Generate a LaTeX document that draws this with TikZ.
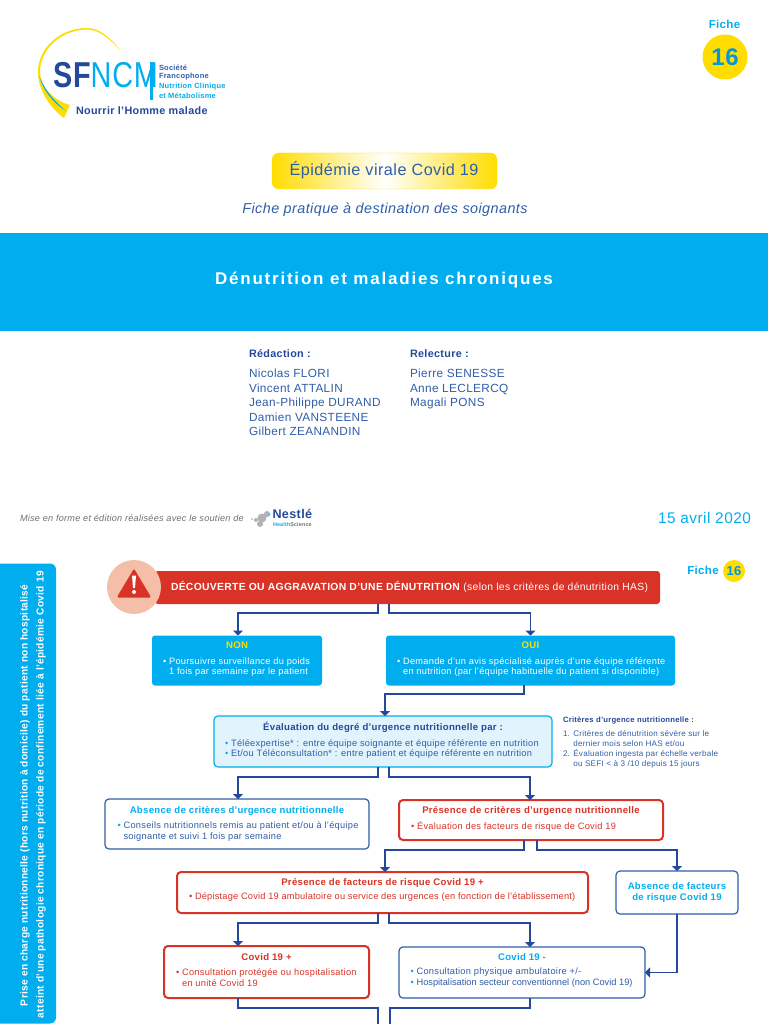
\documentclass[tikz,border=0pt]{standalone}
\usepackage{fontspec}
\setmainfont[LetterSpace=3]{Liberation Sans}
\usetikzlibrary{arrows.meta, positioning}
\definecolor{sfCyan}{HTML}{00AEEF}
\definecolor{sfBlue}{HTML}{2F5DA8}
\definecolor{sfDark}{HTML}{24489A}
\definecolor{sfRed}{HTML}{D93226}
\definecolor{sfYellow}{HTML}{FFDD00}
\definecolor{sfPale}{HTML}{E1F4FD}
\definecolor{sfPeach}{HTML}{F4BEA9}
\definecolor{sfGrey}{HTML}{6D6E71}
\newcommand{\fsz}[1]{\fontsize{#1}{#1}\selectfont}
\tikzset{
  every node/.append style = {inner sep=0pt, outer sep=0pt},
  link/.style      = {-{Triangle[length=5pt, width=10pt]}, sfDark, line width=1.5pt},
  plainlink/.style = {sfDark, line width=1.5pt},
  cyanbox/.style   = {rectangle, rounded corners=3pt, fill=sfCyan},
  bluebox/.style   = {rectangle, rounded corners=4pt, draw=sfBlue, line width=1.2pt, fill=white},
  redbox/.style    = {rectangle, rounded corners=4pt, draw=sfRed, line width=2pt, fill=white},
  boxtitle/.style  = {font=\fsz{9.6}\bfseries, align=center},
  bullets/.style   = {anchor=west, align=left, font=\fontsize{9.25}{10.7}\selectfont},
  people/.style    = {anchor=north west, align=left, text=sfBlue, font=\fontsize{11.8}{14.5}\selectfont},
  persontitle/.style = {anchor=west, text=sfDark, font=\fsz{10.8}\bfseries},
  logosmall/.style = {anchor=west, font=\fsz{7.5}\bfseries},
}
\begin{document}
\begin{tikzpicture}[x=1pt, y=-1pt]
  \useasboundingbox (0,0) rectangle (768,1024);
  % logo
  \fill[sfYellow] (121,51) .. controls (108,35) and (98,28) .. (87,28)
     .. controls (60,28) and (38,48) .. (38,72) .. controls (38,90) and (50,108) .. (64,118)
     -- (70,105) .. controls (52,100) and (40,85) .. (40,72)
     .. controls (40,50) and (60,30) .. (87,29.5) .. controls (98,29.5) and (108,37) .. (121,51) -- cycle;
  \fill[sfCyan] (39,76) .. controls (43,90) and (52,102) .. (66,111)
     .. controls (52,99) and (45,90) .. (39,76) -- cycle;
  \node[anchor=west, xscale=0.8, font=\fsz{36}] (logoname) at (53,75)
     {\textcolor{sfDark}{\bfseries SF}\textcolor{sfCyan}{NCM}};
  \fill[sfCyan] (149.5,62) rectangle (153,100);
  \node[logosmall, text=sfBlue] (logoa) at (159,67.5) {Société};
  \node[logosmall, text=sfBlue] (logob) at (159,77) {Francophone};
  \node[logosmall, text=sfCyan] (logoc) at (159,86.5) {Nutrition Clinique};
  \node[logosmall, text=sfCyan] (logod) at (159,96) {et Métabolisme};
  \node[anchor=west, text=sfDark, font=\fsz{10.8}\bfseries] (motto) at (76,110.5) {Nourrir l’Homme malade};
  % page head
  \node[text=sfCyan, font=\fsz{11.5}\bfseries] (fiche) at (724.5,24) {Fiche};
  \node[circle, fill=sfYellow, minimum size=45pt] (num) at (725,57) {};
  \node[text=sfCyan!75!sfDark, font=\fsz{24}\bfseries] (numtxt) at (725,57) {16};
  \node[rectangle, rounded corners=7pt, draw=sfYellow, left color=sfYellow, right color=sfYellow,
     middle color=white, minimum width=225pt, minimum height=36pt] (banner) at (384.5,171) {};
  \node[text=sfBlue, font=\fsz{16.2}] (bannertxt) at (384,170.5) {Épidémie virale Covid 19};
  \node[text=sfBlue, font=\fsz{14.4}\itshape] (sub) at (385,209.5) {Fiche pratique à destination des soignants};
  \fill[sfCyan] (0,233) rectangle (768,331);
  \node[text=white, font=\fsz{17}\bfseries\addfontfeature{LetterSpace=10.5}] (headline) at (384,280) {Dénutrition et maladies chroniques};
  % authors
  \node[persontitle] (redac) at (249,353.5) {Rédaction :};
  \node[people] (redacnames) at (249,369) {Nicolas FLORI\\Vincent ATTALIN\\Jean-Philippe DURAND\\Damien VANSTEENE\\Gilbert ZEANANDIN};
  \node[persontitle] (relec) at (410,353.5) {Relecture :};
  \node[people] (relecnames) at (410,369) {Pierre SENESSE\\Anne LECLERCQ\\Magali PONS};
  % sponsor and date
  \node[anchor=west, text=sfGrey, font=\fsz{9.1}\itshape] (support) at (20,518.5) {Mise en forme et édition réalisées avec le soutien de};
  \foreach \x/\y/\r in {252/519/1, 256/520/2, 260/524/3, 262/518/4.5, 267/514/3} \fill[gray!60] (\x,\y) circle (\r);
  \fill[sfCyan!70] (269,514.5) circle (1.6);
  \node[anchor=west, text=sfDark, font=\fsz{12.6}\bfseries] (nestle) at (272.5,514) {Nestlé};
  \node[anchor=west, text=sfCyan, font=\fsz{5.4}\bfseries] (health) at (273,524.5) {Health\textcolor{sfGrey}{Science}};
  \node[text=sfCyan, font=\fsz{15.4}] (date) at (704.5,518) {15 avril 2020};
  % side panel
  \fill[sfCyan, rounded corners=6pt] (-10,563.5) rectangle (56,1023.5);
  \node[rotate=90, anchor=west, text=white, font=\fsz{10.15}\bfseries] (sidea) at (25,1006) {Prise en charge nutritionnelle (hors nutrition à domicile) du patient non hospitalisé};
  \node[rotate=90, anchor=west, text=white, font=\fsz{10.15}\bfseries] (sideb) at (41,1018) {atteint d’une pathologie chronique en période de confinement liée à l’épidémie Covid 19};
  \node[text=sfCyan, font=\fsz{11.5}\bfseries] (fichesm) at (703,570.5) {Fiche};
  \node[circle, fill=sfYellow, minimum size=22pt] (numsm) at (734,571) {};
  \node[text=sfCyan!75!sfDark, font=\fsz{13}\bfseries] (numsmtxt) at (734,571) {16};
  % connectors behind the boxes
  \coordinate (topL) at (378,604);
  \coordinate (topR) at (389,604);
  \coordinate (ouiOut) at (524,685);
  \coordinate (evalL) at (378,767);
  \coordinate (evalR) at (389,767);
  \coordinate (presL) at (524,840);
  \coordinate (presR) at (537,840);
  \coordinate (factL) at (378,913);
  \coordinate (factR) at (389,913);
  \coordinate (endA) at (378,1024);
  \coordinate (endB) at (390,1024);
  % boxes
  \node[rectangle, rounded corners=3pt, fill=sfRed, minimum width=505pt, minimum height=33pt] (top) at (407.5,587.5) {};
  \node[circle, fill=sfPeach, minimum size=54pt] (alert) at (134,587) {};
  \draw[sfRed, fill=sfRed, line width=2pt, line join=round] (134,570.5) -- (118.5,596.5) -- (149.5,596.5) -- cycle;
  \fill[white] (132,575.5) -- (136,575.5) -- (135,588) -- (133,588) -- cycle;
  \fill[white] (134,592) circle (2);
  \node[anchor=west, text=white, font=\fsz{10.35}] (toptxt) at (171,586.5) {\textbf{DÉCOUVERTE OU AGGRAVATION D’UNE DÉNUTRITION} (selon les critères de dénutrition HAS)};

  \node[cyanbox, minimum width=170pt, minimum height=50pt] (non) at (237,660.5) {};
  \node[boxtitle, text=sfYellow] (nontxt) at (237,645) {NON};
  \node[bullets, text=white] (nonlist) at (163,667) {• Poursuivre surveillance du poids\\\phantom{• }1 fois par semaine par le patient};
  \node[cyanbox, minimum width=289pt, minimum height=50pt] (oui) at (530.5,660.5) {};
  \node[boxtitle, text=sfYellow] (ouitxt) at (530.5,645) {OUI};
  \node[bullets, text=white] (ouilist) at (397,667) {• Demande d’un avis spécialisé auprès d’une équipe référente\\\phantom{• }en nutrition (par l’équipe habituelle du patient si disponible)};

  \node[rectangle, rounded corners=4pt, draw=sfCyan, line width=1.2pt, fill=sfPale, minimum width=338pt, minimum height=51pt] (eval) at (383,741.5) {};
  \node[boxtitle, text=sfDark] (evaltxt) at (383,727) {Évaluation du degré d’urgence nutritionnelle par :};
  \node[bullets, text=sfBlue] (evallist) at (225,749) {\textcolor{sfCyan}{•} Téléexpertise* : entre équipe soignante et équipe référente en nutrition\\\textcolor{sfCyan}{•} Et/ou Téléconsultation* : entre patient et équipe référente en nutrition};
  \node[anchor=west, text=sfDark, font=\fsz{7.7}\bfseries] (crit) at (563,720) {Critères d’urgence nutritionnelle :};
  \node[anchor=north west, align=left, text=sfBlue, font=\fontsize{8.1}{10}\selectfont] (critlist) at (563,731) {1. Critères de dénutrition sévère sur le\\\phantom{1. }dernier mois selon HAS et/ou\\2. Évaluation ingesta par échelle verbale\\\phantom{2. }ou SEFI < à 3 /10 depuis 15 jours};

  \node[bluebox, minimum width=264pt, minimum height=50pt] (absent) at (237,824) {};
  \node[boxtitle, text=sfCyan] (absenttxt) at (237,810.5) {Absence de critères d’urgence nutritionnelle};
  \node[bullets, text=sfBlue] (absentlist) at (117.5,831.5) {\textcolor{sfCyan}{•} Conseils nutritionnels remis au patient et/ou à l’équipe\\\phantom{• }soignante et suivi 1 fois par semaine};
  \node[redbox, minimum width=264pt, minimum height=40pt] (present) at (531,820) {};
  \node[boxtitle, text=sfRed] (presenttxt) at (531,811) {Présence de critères d’urgence nutritionnelle};
  \node[bullets, text=sfRed] (presentlist) at (411,826.5) {• Évaluation des facteurs de risque de Covid 19};

  \node[redbox, minimum width=411pt, minimum height=41pt] (factors) at (382.5,892.5) {};
  \node[boxtitle, text=sfRed] (factorstxt) at (382.5,883) {Présence de facteurs de risque Covid 19 +};
  \node[bullets, text=sfRed] (factorslist) at (189,897.5) {\addfontfeature{LetterSpace=2.2}• Dépistage Covid 19 ambulatoire ou service des urgences (en fonction de l’établissement)};
  \node[bluebox, minimum width=122pt, minimum height=43pt, text=sfCyan, font=\fontsize{9.6}{11.3}\selectfont\bfseries, align=center] (nofactors) at (677,892.5) {Absence de facteurs\\de risque Covid 19};

  \node[redbox, minimum width=205pt, minimum height=52pt] (plus) at (266.5,972) {};
  \node[boxtitle, text=sfRed] (plustxt) at (266.5,957) {Covid 19 +};
  \node[bullets, text=sfRed] (pluslist) at (176,977.5) {• Consultation protégée ou hospitalisation\\\phantom{• }en unité Covid 19};
  \node[bluebox, minimum width=246pt, minimum height=51pt] (minus) at (522,972.5) {};
  \node[boxtitle, text=sfCyan] (minustxt) at (522,957) {Covid 19 -};
  \node[bullets, text=sfBlue] (minuslist) at (410.5,977.5) {\textcolor{sfCyan}{•} Consultation physique ambulatoire +/-\\\textcolor{sfCyan}{•} {\addfontfeature{LetterSpace=0}Hospitalisation secteur conventionnel (non Covid 19)}};
  % connectors
  \draw[link] (topL) -- ++(0,9) -| ([xshift=1pt]non.north);
  \draw[link] (topR) -- ++(0,9) -| (oui.north);
  \draw[link] (ouiOut) -- ++(0,9) -| ([xshift=2pt]eval.north);
  \draw[link] (evalL) -- ++(0,10) -| ([xshift=1pt]absent.north);
  \draw[link] (evalR) -- ++(0,10) -| ([xshift=-1pt]present.north);
  \draw[link] (presL) -- ++(0,10) -| ([xshift=2.5pt]factors.north);
  \draw[link] (presR) -- ++(0,10) -| (nofactors.north);
  \draw[link] (factL) -- ++(0,10) -| ([xshift=-28.5pt]plus.north);
  \draw[link] (factR) -- ++(0,10) -| ([xshift=8pt]minus.north);
  \draw[link] (nofactors.south) |- (minus.east);
  \draw[plainlink] ([xshift=-28.5pt]plus.south) -- ++(0,10) -| (endA);
  \draw[plainlink] ([xshift=8pt]minus.south) -- ++(0,10) -| (endB);
\end{tikzpicture}
\end{document}
